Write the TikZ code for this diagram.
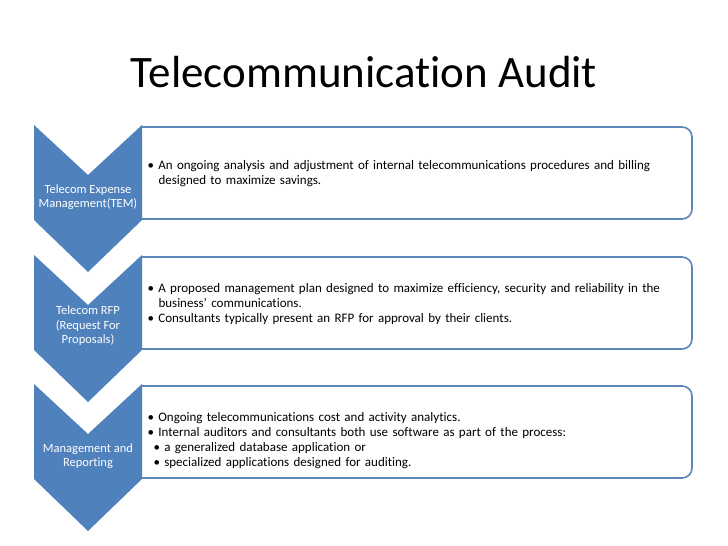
\documentclass[tikz,border=0pt]{standalone}
\usepackage{fontspec}
\setmainfont{Carlito}[Ligatures={NoCommon}]
\definecolor{chev}{HTML}{4F81BD}
\definecolor{edge}{HTML}{5A86B8}
\begin{document}
\begin{tikzpicture}[x=1pt,y=-1pt,
 chevfill/.style={fill=chev,draw=none},
 boxline/.style={draw=edge,line width=1.6pt,fill=white},
 lbl/.style={text=white,font=\fontsize{12.5}{14.5}\selectfont,align=center},
 body/.style={anchor=north west,font=\fontsize{13}{15}\selectfont,align=left,text width=560pt}]
\useasboundingbox (0,0) rectangle (728,546);
\node (title) at (364,72) {\fontsize{45}{50}\selectfont Telecommunication Audit};
\foreach \t/\n in {125/a,255/b,384/c}{
 \draw[boxline,rounded corners=10pt] (142,\t+2) -- (692,\t+2) -- (692,\t+94) -- (142,\t+94);
 \fill[chevfill] (34,\t) -- (88,\t+50) -- (142,\t) -- (142,\t+95) -- (88,\t+147) -- (34,\t+95) -- cycle;
}
\node[lbl] (la) at (88,197) {Telecom Expense\\Management(TEM)};
\node[lbl] (lb) at (88,326) {Telecom RFP\\(Request For\\Proposals)};
\node[lbl] (lc) at (88,456) {Management and\\Reporting};
\node[body] (ta) at (144,157) {\textbullet\ An ongoing analysis and adjustment of internal telecommunications procedures and billing\\\hspace*{11pt}designed to maximize savings.};
\node[body] (tb) at (144,280) {\textbullet\ A proposed management plan designed to maximize efficiency, security and reliability in the\\\hspace*{11pt}business' communications.\\\textbullet\ Consultants typically present an RFP for approval by their clients.};
\node[body] (tc) at (144,409) {\textbullet\ Ongoing telecommunications cost and activity analytics.\\\textbullet\ Internal auditors and consultants both use software as part of the process:\\\hspace*{6pt}\textbullet\ a generalized database application or\\\hspace*{6pt}\textbullet\ specialized applications designed for auditing.};
\end{tikzpicture}
\end{document}
